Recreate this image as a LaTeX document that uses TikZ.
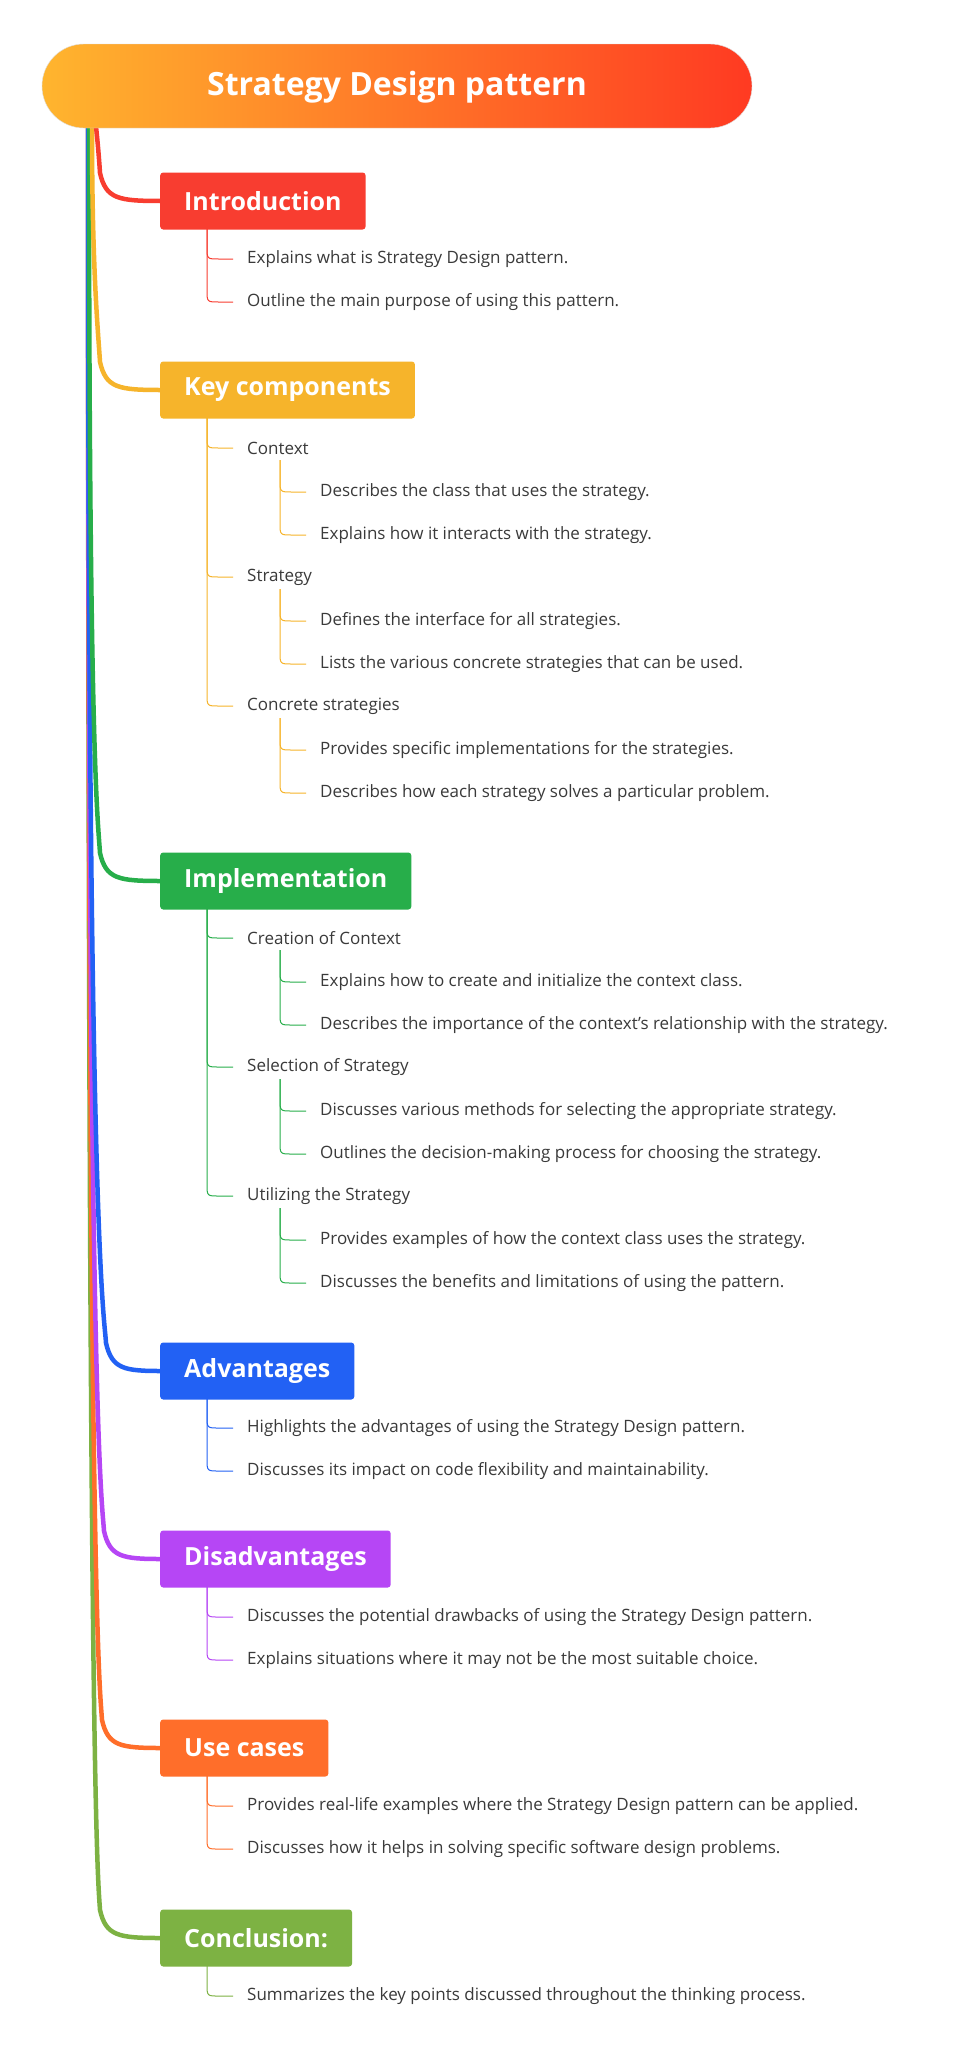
\documentclass[tikz,border=0pt]{standalone}
\usepackage{fontspec}
\setmainfont{Open Sans}
\definecolor{cred}{HTML}{F83D30}
\definecolor{cyel}{HTML}{F6B42B}
\definecolor{cgrn}{HTML}{27AE4A}
\definecolor{cblu}{HTML}{2261F4}
\definecolor{cpur}{HTML}{B646F5}
\definecolor{cora}{HTML}{FF6E2A}
\definecolor{coli}{HTML}{7DB243}
\definecolor{ctxt}{HTML}{3A3A3A}
\definecolor{gleft}{HTML}{FFB52E}
\definecolor{gright}{HTML}{FF3A22}
\begin{document}
\begin{tikzpicture}[x=1pt,y=-1pt,
  topic/.style={fill=#1,text=white,font=\fontsize{25}{28}\selectfont\bfseries,anchor=west,minimum height=57pt,inner xsep=24pt,rounded corners=3pt,inner ysep=0pt},
  leaf/.style={text=ctxt,font=\fontsize{17}{19}\selectfont,anchor=west,inner sep=0pt},
  trunk/.style={draw=#1,line width=4.5pt,line cap=round},
  twig/.style={draw=#1,line width=1pt}]
\useasboundingbox (0,0) rectangle (973,2048);
\fill[white] (0,0) rectangle (973,2048);
\newcommand{\trunkto}[4]{\draw[trunk=#1] (#3,126) .. controls (#3,#2-120) and (#4,#2-60) .. (#4+2,#2-28) .. controls (#4+8,#2-2) and (#4+20,#2) .. (162,#2);}
\trunkto{coli}{1938}{88}{98}
\trunkto{cora}{1748}{88}{100}
\trunkto{cpur}{1559}{88}{102}
\trunkto{cblu}{1371}{88}{104}
\trunkto{cgrn}{881}{89}{98}
\trunkto{cyel}{390}{92}{98}
\trunkto{cred}{201}{92}{98}
\shade[left color=gleft, right color=gright, rounded corners=42pt, draw=gray!25] (42,44) rectangle (752,128);
\node[text=white,font=\fontsize{32}{36}\selectfont\bfseries] (title) at (397,87) {Strategy Design pattern};
\node[topic=cred] (t1) at (160,201) {Introduction};
\node[topic=cyel] (t2) at (160,390) {Key components};
\node[topic=cgrn] (t3) at (160,881) {Implementation};
\node[topic=cblu] (t4) at (160,1371) {Advantages};
\node[topic=cpur] (t5) at (160,1559) {Disadvantages};
\node[topic=cora] (t6) at (160,1748) {Use cases};
\node[topic=coli] (t7) at (160,1938) {Conclusion:};
\newcommand{\lf}[4]{\node[leaf] (#1) at (#2,#3) {#4};}
\newcommand{\tw}[5]{\draw[twig=#1] (#2,#3) -- (#2,#4-12) .. controls (#2,#4) .. (#2+12,#4) -- ([xshift=-14pt]#5.west);}
\lf{a1}{247}{259}{Explains what is Strategy Design pattern.}
\lf{a2}{247}{302}{Outline the main purpose of using this pattern.}
\tw{cred}{207}{229}{259}{a1}\tw{cred}{207}{229}{302}{a2}
\lf{b1}{247}{448}{Context}
\lf{b11}{320}{492}{Describes the class that uses the strategy.}
\lf{b12}{320}{535}{Explains how it interacts with the strategy.}
\lf{b2}{247}{577}{Strategy}
\lf{b21}{320}{621}{Defines the interface for all strategies.}
\lf{b22}{320}{664}{Lists the various concrete strategies that can be used.}
\lf{b3}{247}{706}{Concrete strategies}
\lf{b31}{320}{750}{Provides specific implementations for the strategies.}
\lf{b32}{320}{793}{Describes how each strategy solves a particular problem.}
\tw{cyel}{207}{418}{448}{b1}\tw{cyel}{207}{418}{577}{b2}\tw{cyel}{207}{418}{706}{b3}
\tw{cyel}{280}{460}{492}{b11}\tw{cyel}{280}{460}{535}{b12}
\tw{cyel}{280}{589}{621}{b21}\tw{cyel}{280}{589}{664}{b22}
\tw{cyel}{280}{718}{750}{b31}\tw{cyel}{280}{718}{793}{b32}
\lf{c1}{247}{938}{Creation of Context}
\lf{c11}{320}{982}{Explains how to create and initialize the context class.}
\lf{c12}{320}{1025}{Describes the importance of the context's relationship with the strategy.}
\lf{c2}{247}{1067}{Selection of Strategy}
\lf{c21}{320}{1111}{Discusses various methods for selecting the appropriate strategy.}
\lf{c22}{320}{1154}{Outlines the decision-making process for choosing the strategy.}
\lf{c3}{247}{1196}{Utilizing the Strategy}
\lf{c31}{320}{1240}{Provides examples of how the context class uses the strategy.}
\lf{c32}{320}{1283}{Discusses the benefits and limitations of using the pattern.}
\tw{cgrn}{207}{909}{938}{c1}\tw{cgrn}{207}{909}{1067}{c2}\tw{cgrn}{207}{909}{1196}{c3}
\tw{cgrn}{280}{950}{982}{c11}\tw{cgrn}{280}{950}{1025}{c12}
\tw{cgrn}{280}{1079}{1111}{c21}\tw{cgrn}{280}{1079}{1154}{c22}
\tw{cgrn}{280}{1208}{1240}{c31}\tw{cgrn}{280}{1208}{1283}{c32}
\lf{d1}{247}{1428}{Highlights the advantages of using the Strategy Design pattern.}
\lf{d2}{247}{1471}{Discusses its impact on code flexibility and maintainability.}
\tw{cblu}{207}{1399}{1428}{d1}\tw{cblu}{207}{1399}{1471}{d2}
\lf{e1}{247}{1617}{Discusses the potential drawbacks of using the Strategy Design pattern.}
\lf{e2}{247}{1660}{Explains situations where it may not be the most suitable choice.}
\tw{cpur}{207}{1587}{1617}{e1}\tw{cpur}{207}{1587}{1660}{e2}
\lf{f1}{247}{1806}{Provides real-life examples where the Strategy Design pattern can be applied.}
\lf{f2}{247}{1849}{Discusses how it helps in solving specific software design problems.}
\tw{cora}{207}{1776}{1806}{f1}\tw{cora}{207}{1776}{1849}{f2}
\lf{g1}{247}{1996}{Summarizes the key points discussed throughout the thinking process.}
\tw{coli}{207}{1966}{1996}{g1}
\end{tikzpicture}
\end{document}
